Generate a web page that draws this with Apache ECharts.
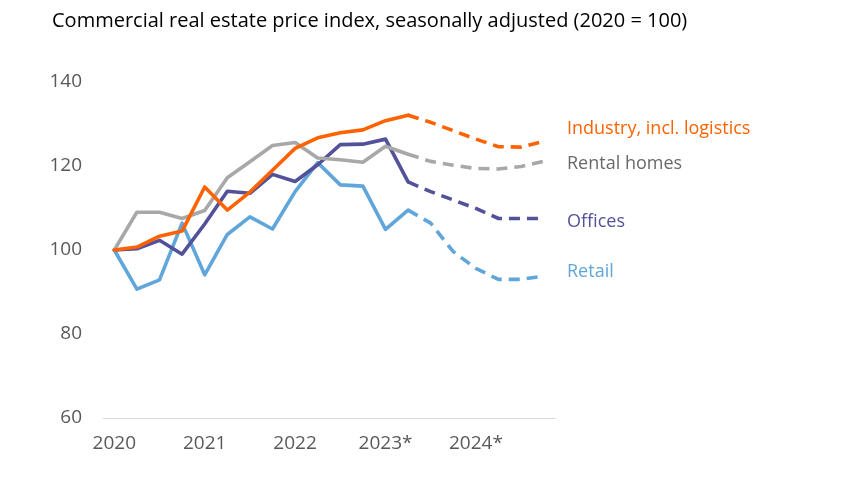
<!DOCTYPE html>
<html>
<head>
<meta charset="utf-8">
<script src="https://cdn.jsdelivr.net/npm/echarts@6/dist/echarts.min.js"></script>
<style>
html,body{margin:0;padding:0;background:#fff;}
#chart{width:851px;height:492px;}
</style>
</head>
<body>
<div id="chart"></div>
<script>
// quarters 2020Q1 .. 2024Q4, label only on Q1
var quarters = ['2020','','','','2021','','','','2022','','','','2023*','','','','2024*','','',''];
var industry = [100,100.7,103.3,104.5,115,109.5,113.8,119,124.2,126.7,127.9,128.6,130.8,132.1,130.4,128.4,126.4,124.6,124.5,125.9];
var rental   = [100,109,109,107.5,109.4,117.2,121,124.9,125.6,121.9,121.5,120.9,124.7,122.8,121.1,120.2,119.4,119.3,119.9,121.1];
var offices  = [100,100.3,102.3,99,106.2,114,113.5,118,116.3,120.3,125.1,125.2,126.4,116.2,113.9,111.9,109.9,107.5,107.5,107.5];
var retail   = [100,90.7,92.9,106.4,94.1,103.7,107.9,105,113.9,120.8,115.5,115.2,104.9,109.5,106.4,99.6,95.6,93,93,93.8];
var splitAt = 13; // last actual quarter, forecast drawn dashed from here

function actual(arr){
	var out = [];
	for (var i = 0; i < arr.length; i++) { out[i] = i <= splitAt ? arr[i] : null; }
	return out;
}
function forecast(arr){
	var out = [];
	for (var i = 0; i < arr.length; i++) { out[i] = i >= splitAt ? arr[i] : null; }
	return out;
}

var lines = [
	{name:'Industry, incl. logistics', data:industry, color:'#FF6200', text:'#FF6200', y:128},
	{name:'Rental homes', data:rental, color:'#A8A8A8', text:'#696969', y:163},
	{name:'Offices', data:offices, color:'#525199', text:'#525199', y:221},
	{name:'Retail', data:retail, color:'#60A6DA', text:'#60A6DA', y:271}
];

var series = [];
var labels = [];
// draw order: retail at bottom, industry on top
for (var k = lines.length - 1; k >= 0; k--) {
	var l = lines[k];
	series.push({type:'line', name:l.name, data:actual(l.data), symbol:'none', silent:true,
		lineStyle:{color:l.color, width:3.6, cap:'round', join:'round'}});
	series.push({type:'line', name:l.name + ' f', data:forecast(l.data), symbol:'none', silent:true,
		lineStyle:{color:l.color, width:3.6, type:[11,7], join:'round'}});
}
for (var j = 0; j < lines.length; j++) {
	labels.push({type:'text', left:567, top:lines[j].y - 8,
		style:{text:lines[j].name, fill:lines[j].text, font:'18px "Open Sans", sans-serif'}});
}
labels.push({type:'text', left:52, top:11,
	style:{text:'Commercial real estate price index, seasonally adjusted (2020 = 100)', fill:'#000', font:'20px "Open Sans", sans-serif'}});

var chart = echarts.init(document.getElementById('chart'));
chart.setOption({
	animation:false,
	grid:{left:103, right:296, top:82, bottom:74},
	xAxis:{type:'category', data:quarters, boundaryGap:true,
		axisLine:{lineStyle:{color:'#d9d9d9', width:1}},
		axisTick:{show:false},
		axisLabel:{interval:0, color:'#595959', fontSize:19, fontFamily:'Open Sans', margin:16}},
	yAxis:{type:'value', min:60, max:140, interval:20,
		axisLine:{show:false}, axisTick:{show:false}, splitLine:{show:false},
		axisLabel:{color:'#595959', fontSize:19, fontFamily:'Open Sans', margin:21}},
	graphic:labels,
	series:series
});
</script>
</body>
</html>
